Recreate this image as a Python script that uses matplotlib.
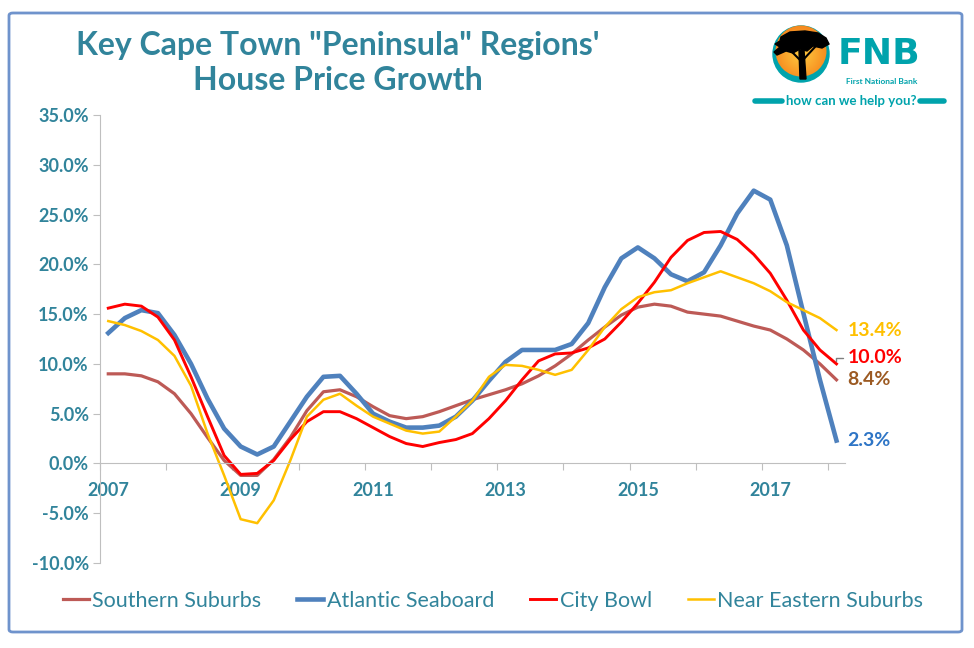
import numpy as np
import matplotlib.pyplot as plt
from matplotlib.patches import Circle, Polygon, FancyBboxPatch

plt.rcParams['font.family'] = ['Lato', 'DejaVu Sans']

# quarterly points, 2007Q1 .. 2018Q1
quarters = np.arange(45)
year_pos = [0, 8, 16, 24, 32, 40]
year_labels = ['2007', '2009', '2011', '2013', '2015', '2017']

southern = [9.0, 9.0, 8.8, 8.2, 7.0, 5.0, 2.6, 0.3, -1.2, -1.2,
            0.4, 2.6, 5.3, 7.2, 7.4, 6.7, 5.7, 4.8, 4.5, 4.7,
            5.2, 5.8, 6.4, 6.9, 7.4, 8.0, 8.8, 9.8, 11.0, 12.4,
            13.7, 14.9, 15.7, 16.0, 15.8, 15.2, 15.0, 14.8, 14.3, 13.8,
            13.4, 12.5, 11.4, 10.0, 8.4]
atlantic = [13.1, 14.6, 15.4, 15.1, 12.9, 10.0, 6.5, 3.5, 1.7, 0.9,
            1.7, 4.2, 6.7, 8.7, 8.8, 7.0, 5.0, 4.2, 3.6, 3.6,
            3.8, 4.7, 6.3, 8.3, 10.2, 11.4, 11.4, 11.4, 12.0, 14.1,
            17.7, 20.6, 21.7, 20.6, 19.0, 18.3, 19.2, 21.9, 25.1, 27.4,
            26.5, 21.9, 15.1, 8.4, 2.3]
city_bowl = [15.6, 16.0, 15.8, 14.7, 12.4, 8.7, 4.7, 0.8, -1.1, -1.0,
             0.3, 2.4, 4.2, 5.2, 5.2, 4.5, 3.6, 2.7, 2.0, 1.7,
             2.1, 2.4, 3.0, 4.5, 6.3, 8.4, 10.3, 11.0, 11.1, 11.6,
             12.5, 14.2, 16.1, 18.2, 20.7, 22.4, 23.2, 23.3, 22.5, 21.0,
             19.1, 16.4, 13.4, 11.4, 10.0]
near_eastern = [14.3, 13.9, 13.3, 12.4, 10.8, 7.8, 3.0, -1.2, -5.6, -6.0,
                -3.7, 0.3, 4.7, 6.4, 7.0, 5.8, 4.7, 4.0, 3.3, 3.0,
                3.2, 4.7, 6.3, 8.7, 9.9, 9.8, 9.4, 8.9, 9.4, 11.4,
                13.7, 15.5, 16.7, 17.2, 17.4, 18.1, 18.7, 19.3, 18.7, 18.1,
                17.3, 16.2, 15.4, 14.6, 13.4]

teal = '#31849B'
axis_grey = '#BFBFBF'

fig = plt.figure(figsize=(9.74, 6.48), dpi=100)
ax = fig.add_axes([100/974, 1-563/648, 744.75/974, 448/648])

ax.plot(quarters, southern, color='#BD5A56', lw=2.3, label='Southern Suburbs')
ax.plot(quarters, atlantic, color='#4F81BD', lw=3.3, label='Atlantic Seaboard')
ax.plot(quarters, city_bowl, color='#FF0000', lw=2.1, label='City Bowl')
ax.plot(quarters, near_eastern, color='#FFC000', lw=1.8, label='Near Eastern Suburbs')

ax.set_xlim(-0.5, 44.5)
ax.set_ylim(-10, 35)

for s in ['top', 'right']:
    ax.spines[s].set_visible(False)
ax.spines['left'].set_color(axis_grey)
ax.spines['bottom'].set_color(axis_grey)
ax.spines['bottom'].set_position(('data', 0))

yt = np.arange(-10, 36, 5)
ax.set_yticks(yt)
ax.set_yticklabels([f'{v:.1f}%' for v in yt])
ax.tick_params(axis='y', direction='out', length=5, color=axis_grey, pad=3,
               labelsize=13, labelcolor=teal)
for t in ax.get_yticklabels():
    t.set_fontweight('bold')

ax.set_xticks(np.arange(-0.5, 44, 4))
ax.tick_params(axis='x', which='major', direction='out', length=5,
               color=axis_grey, labelbottom=False)
ax.set_xticks(year_pos, minor=True)
ax.set_xticklabels(year_labels, minor=True)
ax.tick_params(axis='x', which='minor', length=0, pad=13,
               labelsize=13, labelcolor=teal)
for t in ax.get_xticklabels(minor=True):
    t.set_fontweight('bold')

# end-of-series labels
end_styles = [(near_eastern, '#FFC000', 0), (city_bowl, '#FF0000', 6),
              (southern, '#9C5A22', 0), (atlantic, '#2E75C6', 0)]
for series, col, dy in end_styles:
    last = series[-1]
    if dy:
        ax.annotate(f'{last:.1f}%', xy=(44, last), xytext=(11, dy),
                    textcoords='offset pixels', va='center', ha='left',
                    fontsize=14, fontweight='bold', color=col,
                    annotation_clip=False,
                    arrowprops=dict(arrowstyle='-', color='#7F7F7F', lw=1,
                                    relpos=(0, 0.5), shrinkA=1, shrinkB=2,
                                    connectionstyle='angle,angleA=180,angleB=90,rad=0'))
    else:
        ax.annotate(f'{last:.1f}%', xy=(44, last), xytext=(11, 0),
                    textcoords='offset pixels', va='center', ha='left',
                    fontsize=14, fontweight='bold', color=col,
                    annotation_clip=False)

fig.legend(loc='center', bbox_to_anchor=(493/974, 1-601/648), ncol=4,
           frameon=False, fontsize=15.5, handlelength=1.2, handletextpad=0.15,
           columnspacing=1.7, labelcolor=teal)

fig.text(338/974, 1-45/648, 'Key Cape Town "Peninsula" Regions\'', ha='center',
         va='center', fontsize=23, fontweight='bold', color=teal)
fig.text(338/974, 1-80/648, 'House Price Growth', ha='center',
         va='center', fontsize=23, fontweight='bold', color=teal)

# outer frame
fig.patches.append(FancyBboxPatch((9/974, 1-632/648), 953/974, 619/648,
                                  boxstyle='round,pad=0,rounding_size=0.004',
                                  transform=fig.transFigure, fill=False,
                                  edgecolor='#6F93CC', lw=2))

# FNB logo, drawn in pixel units
fnb = '#00A3AC'
lg = fig.add_axes([750/974, 1-115/648, 215/974, 105/648])
lg.set_xlim(750, 965)
lg.set_ylim(115, 10)
lg.axis('off')

lg.add_patch(Circle((801, 54), 28, color=fnb, zorder=1))
yy, xx = np.mgrid[0:1:120j, 0:1:120j]
rr = np.sqrt((xx - 0.5)**2 + (yy - 0.55)**2)
grad = np.clip(rr / 0.6, 0, 1)
c_in = np.array([1.0, 0.80, 0.25])
c_out = np.array([0.96, 0.50, 0.10])
img = c_in[None, None, :] * (1 - grad[..., None]) + c_out[None, None, :] * grad[..., None]
disk = Circle((801, 51), 25.5, transform=lg.transData, facecolor='none', edgecolor='none')
lg.add_patch(disk)
im = lg.imshow(img, extent=(775, 827, 77, 25), zorder=2)
im.set_clip_path(disk)
canopy = [(781, 37), (790, 32), (805, 31), (818, 33), (826, 38), (829, 44),
          (822, 48), (813, 46), (807, 51), (800, 49), (793, 53), (786, 51),
          (777, 55), (774, 52), (780, 47), (775, 44), (780, 41)]
lg.add_patch(Polygon(canopy, closed=True, color='black', zorder=3))
lg.add_patch(Polygon([(799, 50), (804, 50), (806, 79), (800, 79)],
                     closed=True, color='black', zorder=3))
lg.plot([802, 790], [62, 50], color='black', lw=1.5, zorder=3)
lg.plot([803, 815], [60, 47], color='black', lw=1.5, zorder=3)
lg.set_aspect('auto')
lg.set_xlim(750, 965)
lg.set_ylim(115, 10)
lg.text(838, 54, 'FNB', fontsize=26, fontweight='bold', family='DejaVu Sans',
        color=fnb, va='center', ha='left')
lg.text(882, 81, 'First National Bank', fontsize=6, fontweight='bold',
        color=fnb, va='center', ha='center')
lg.text(851, 101, 'how can we help you?', fontsize=9.5, fontweight='bold',
        color=fnb, va='center', ha='center')
lg.plot([755, 782], [101, 101], color=fnb, lw=4, solid_capstyle='round')
lg.plot([920, 944], [101, 101], color=fnb, lw=4, solid_capstyle='round')

fig.savefig('out.png', dpi=100)
